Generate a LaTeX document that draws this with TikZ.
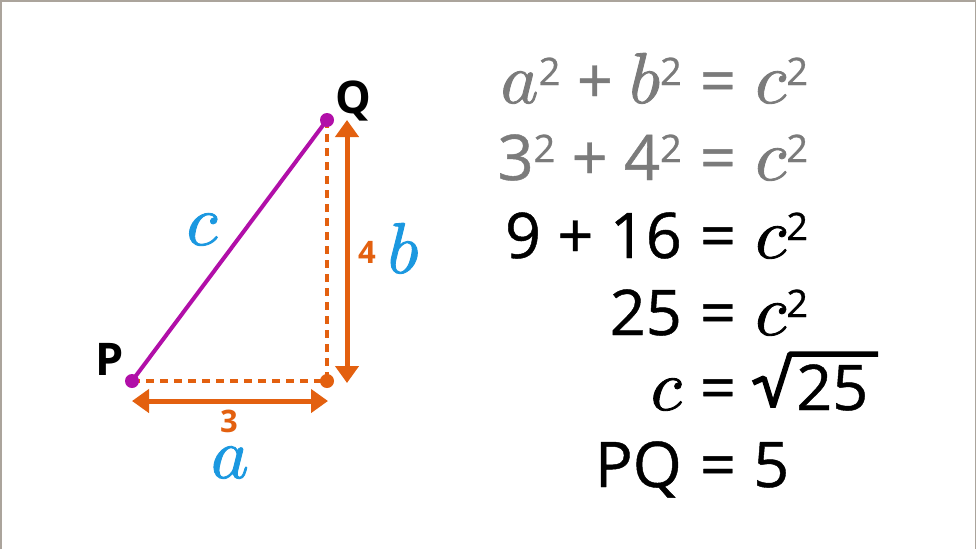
\documentclass[tikz,border=0pt]{standalone}
\usepackage{fontspec}
\setmainfont{Open Sans}
\newfontfamily\eqfont{Open Sans}[FakeBold=0.7]
\newfontfamily\mitfont{latinmodern-math.otf}[FakeBold=1.2]
\usetikzlibrary{arrows.meta}
\definecolor{orng}{HTML}{E3600F}
\definecolor{blu}{HTML}{1B98E0}
\definecolor{mag}{HTML}{B10FA8}
\definecolor{gry}{HTML}{7B7B7B}
\definecolor{framecol}{HTML}{ABA49C}
\newcommand\vi[1]{{\mitfont\fontsize{72}{72}\selectfont #1}}
\newcommand\sqr{\raisebox{18pt}{\fontsize{38}{38}\selectfont 2}}
\tikzset{
  eqn/.style={font=\eqfont\fontsize{63}{63}\selectfont, inner sep=0pt},
  dotnode/.style={circle, inner sep=0pt, minimum size=14pt},
  dashline/.style={orng, line width=4pt, dash pattern=on 8pt off 6pt},
  dimarrow/.style={orng, line width=5pt, {Triangle[length=17pt,width=23pt]}-{Triangle[length=17pt,width=23pt]}},
  numlabel/.style={orng, font=\fontsize{31}{31}\selectfont\bfseries, inner sep=0pt, text height=22pt, text depth=0pt},
  ptlabel/.style={black, font=\fontsize{45}{45}\selectfont\bfseries, inner sep=0pt},
  varlabel/.style={blu, inner sep=0pt}
}
\begin{document}
\begin{tikzpicture}[x=1pt,y=-1pt]
\useasboundingbox (0,0) rectangle (976,549);
\fill[white] (0,0) rectangle (976,549);
\draw[framecol, line width=1.5pt] (0.75,549) -- (0.75,0.75) -- (975.25,0.75) -- (975.25,549);

% triangle
\coordinate (Pc) at (132,381);
\coordinate (Qc) at (327,120);
\coordinate (Rc) at (327,381);
\draw[dashline] (Pc) -- (Rc);
\draw[dashline] (Qc) -- (Rc);
\draw[mag, line width=4pt] (Pc) -- (Qc);
\node[dotnode, fill=mag] (P) at (Pc) {};
\node[dotnode, fill=mag] (Q) at (Qc) {};
\node[dotnode, fill=orng] (R) at (Rc) {};

\coordinate (a1) at (132,401);
\coordinate (a2) at (328,401);
\coordinate (b1) at (347,120);
\coordinate (b2) at (347,383);
\draw[dimarrow] (a1) -- (a2);
\draw[dimarrow] (b1) -- (b2);

\node[numlabel, anchor=base] (n3) at (229,432) {3};
\node[numlabel, anchor=base] (n4) at (367,263) {4};
\node[varlabel, anchor=base, text height=32pt, text depth=0pt] (la) at (230,478) {\vi{𝑎}};
\node[varlabel, anchor=base] (lb) at (403,273) {\vi{𝑏}};
\node[varlabel, anchor=base] (lc) at (202,245) {\vi{𝑐}};
\node[ptlabel, anchor=base] (lP) at (110,375) {P};
\node[ptlabel, anchor=base] (lQ) at (353,113) {Q};

% equations
\node[eqn, gry, anchor=base east] (l1) at (682,103) {\vi{𝑎}\sqr{} + \vi{𝑏}\sqr};
\node[eqn, gry, anchor=base] (e1) at (718,103) {=};
\node[eqn, gry, anchor=base west] (r1) at (755,103) {\vi{𝑐}\sqr};

\node[eqn, gry, anchor=base east] (l2) at (682,180) {3\sqr{} + 4\sqr};
\node[eqn, gry, anchor=base] (e2) at (718,180) {=};
\node[eqn, gry, anchor=base west] (r2) at (755,180) {\vi{𝑐}\sqr};

\node[eqn, anchor=base east] (l3) at (682,258) {9 + 16};
\node[eqn, anchor=base] (e3) at (718,258) {=};
\node[eqn, anchor=base west] (r3) at (755,258) {\vi{𝑐}\sqr};

\node[eqn, anchor=base east] (l4) at (682,335) {25};
\node[eqn, anchor=base] (e4) at (718,335) {=};
\node[eqn, anchor=base west] (r4) at (755,335) {\vi{𝑐}\sqr};

\node[eqn, anchor=base east] (l5) at (682,410) {\vi{𝑐}};
\node[eqn, anchor=base] (e5) at (718,410) {=};
\node[eqn, anchor=base west] (r5) at (796,410) {25};
\draw[line width=5.5pt, line join=bevel] (753,383) -- (764,378) -- (773,407) -- (790,354) -- (878,354);

\node[eqn, anchor=base east] (l6) at (682,487) {PQ};
\node[eqn, anchor=base] (e6) at (718,487) {=};
\node[eqn, anchor=base west] (r6) at (753,487) {5};
\end{tikzpicture}
\end{document}
